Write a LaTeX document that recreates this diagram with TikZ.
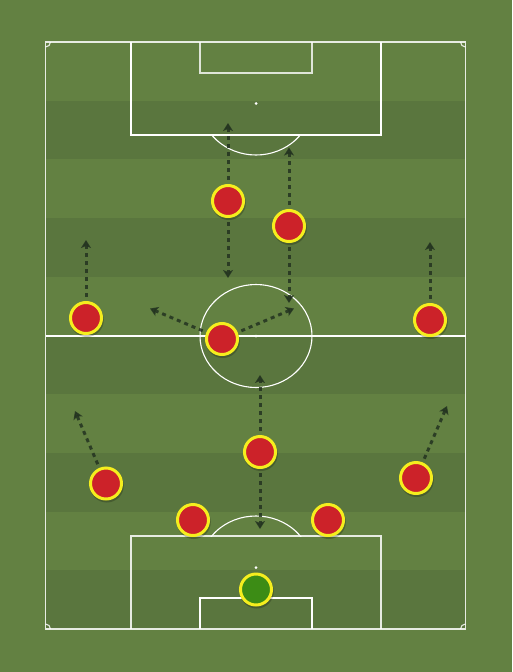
\documentclass[tikz,border=0pt]{standalone}
\usetikzlibrary{arrows.meta}
\definecolor{grass}{HTML}{638142}
\definecolor{stripe}{HTML}{5A763E}
\definecolor{shirt}{HTML}{CC2229}
\definecolor{ring}{HTML}{F5EE1E}
\definecolor{keeper}{HTML}{3C8C15}
\definecolor{runc}{HTML}{233320}
\tikzset{
  line/.style={draw=white,line width=1.1pt},
  spot/.style={fill=white,draw=none},
  player/.style={circle,minimum size=31pt,inner sep=0pt,fill=shirt,draw=ring,line width=3pt},
  goalie/.style={player,fill=keeper},
  shadowc/.style={fill=black,opacity=0.22,draw=none},
  run/.style={draw=runc,opacity=0.85,line width=3pt,dash pattern=on 4pt off 4pt,
    -{Stealth[length=8pt,width=10pt,inset=2pt]},shorten <=4pt},
}
\begin{document}
\begin{tikzpicture}[x=1pt,y=-1pt]
\useasboundingbox (0,0) rectangle (512,672);
\fill[grass] (0,0) rectangle (512,672);
% stripes
\foreach \i in {1,3,5,7,9}{
  \fill[stripe] (45.5,{42+\i*58.7}) rectangle (465.5,{42+(\i+1)*58.7});
}
% pitch lines
\draw[line,draw opacity=0.85] (45.5,42) rectangle (465.5,629);
\draw[line] (45.5,336) -- (465.5,336);
\draw[line] (256,336) ellipse[x radius=56,y radius=51.5];
\fill[spot] (256,336) circle[radius=1.5];
% top
\draw[line] (131,42) -- (131,135) -- (381,135) -- (381,42);
\draw[line,draw opacity=0.8] (200,42) -- (200,73) -- (312,73) -- (312,42);
\fill[spot] (256,103.5) circle[radius=1.5];
\begin{scope}
\clip (100,135) rectangle (412,200);
\draw[line] (256,103.5) ellipse[x radius=56,y radius=51.5];
\end{scope}
% bottom
\draw[line,draw opacity=0.85] (131,629) -- (131,536) -- (381,536) -- (381,629);
\draw[line] (200,629) -- (200,598) -- (312,598) -- (312,629);
\fill[spot] (256,567.5) circle[radius=1.5];
\begin{scope}
\clip (100,536) rectangle (412,470);
\draw[line] (256,567.5) ellipse[x radius=56,y radius=51.5];
\end{scope}
% corners
\draw[line,draw opacity=0.85] (45.5,47) arc[start angle=90,end angle=0,radius=5];
\draw[line,draw opacity=0.85] (465.5,47) arc[start angle=90,end angle=180,radius=5];
\draw[line,draw opacity=0.85] (45.5,624) arc[start angle=-90,end angle=0,radius=5];
\draw[line,draw opacity=0.85] (465.5,624) arc[start angle=-90,end angle=-180,radius=5];
% run targets
\coordinate (t1u) at (228,123);
\coordinate (t1d) at (228,278);
\coordinate (t2u) at (289,147.5);
\coordinate (t2d) at (289,303);
\coordinate (tlw) at (86,240);
\coordinate (trw) at (430,242);
\coordinate (tcl) at (150,308.5);
\coordinate (tcr) at (294,308.5);
\coordinate (tmu) at (260,375);
\coordinate (tmd) at (260,529);
\coordinate (tlb) at (75,411);
\coordinate (trb) at (447,406);
% shadows
\foreach \x/\y in {228/201,289/226,86/318,430/320,222/339,260/452,106/483.5,416/478,193/520,328/520,256/589.5}{
  \fill[shadowc] (\x+0.8,\y+2) circle[radius=17];
}
% players
\node[player] (p1) at (228,201) {};
\node[player] (p2) at (289,226) {};
\node[player] (lw) at (86,318) {};
\node[player] (rw) at (430,320) {};
\node[player] (cf) at (222,339) {};
\node[player] (cm) at (260,452) {};
\node[player] (lb) at (106,483.5) {};
\node[player] (rb) at (416,478) {};
\node[player] (cbl) at (193,520) {};
\node[player] (cbr) at (328,520) {};
\node[goalie] (gk) at (256,589.5) {};
% runs
\draw[run] (p1) -- (t1u);
\draw[run] (p1) -- (t1d);
\draw[run] (p2) -- (t2u);
\draw[run] (p2) -- (t2d);
\draw[run] (lw) -- (tlw);
\draw[run] (rw) -- (trw);
\draw[run] (cf) -- (tcl);
\draw[run] (cf) -- (tcr);
\draw[run] (cm) -- (tmu);
\draw[run] (cm) -- (tmd);
\draw[run] (lb) -- (tlb);
\draw[run] (rb) -- (trb);
\end{tikzpicture}
\end{document}
